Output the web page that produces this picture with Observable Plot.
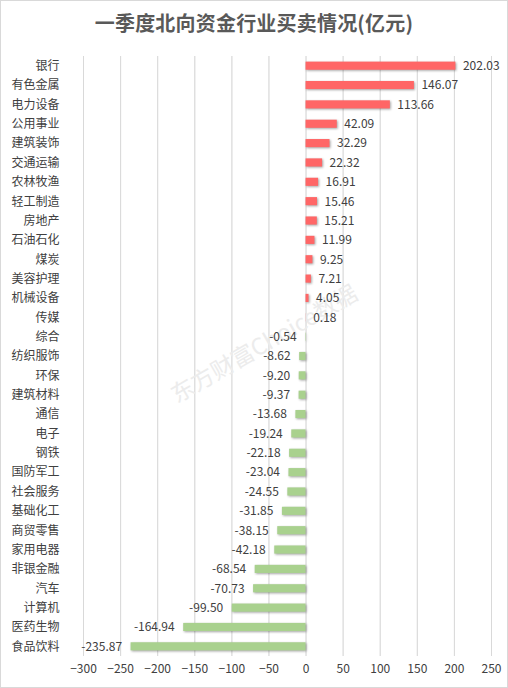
<!DOCTYPE html>
<html>
<head>
<meta charset="utf-8">
<script src="https://cdn.jsdelivr.net/npm/d3@7"></script>
<script src="https://cdn.jsdelivr.net/npm/@observablehq/plot@0.6"></script>
<style>
  html, body { margin: 0; padding: 0; background: #fff; }
  #wrap { position: relative; width: 506px; height: 686px; border: 1px solid #d9d9d9; background: #fff; overflow: hidden; }
  #title { height: 45px; line-height: 44px; text-align: center; font-family: "Noto Sans CJK SC", sans-serif; font-weight: bold; font-size: 20px; color: #595959; letter-spacing: 0.2px; }
  .bars rect { filter: drop-shadow(1.5px 1.5px 1px rgba(0,0,0,0.35)); }
</style>
</head>
<body>
<div id="wrap"><div id="title">一季度北向资金行业买卖情况(亿元)</div><div id="chart"></div></div>
<script>
const categories = ["银行","有色金属","电力设备","公用事业","建筑装饰","交通运输","农林牧渔","轻工制造","房地产","石油石化","煤炭","美容护理","机械设备","传媒","综合","纺织服饰","环保","建筑材料","通信","电子","钢铁","国防军工","社会服务","基础化工","商贸零售","家用电器","非银金融","汽车","计算机","医药生物","食品饮料"];
const values = [202.03,146.07,113.66,42.09,32.29,22.32,16.91,15.46,15.21,11.99,9.25,7.21,4.05,0.18,-0.54,-8.62,-9.20,-9.37,-13.68,-19.24,-22.18,-23.04,-24.55,-31.85,-38.15,-42.18,-68.54,-70.73,-99.50,-164.94,-235.87];
const xTicks = [-300,-250,-200,-150,-100,-50,0,50,100,150,200,250];
const watermark = "东方财富Choice数据";

const data = categories.map((c, i) => ({cat: c, v: values[i]}));
const pos = data.filter(d => d.v >= 0);
const neg = data.filter(d => d.v < 0);
const font = "'Noto Sans CJK SC', sans-serif";

const chart = Plot.plot({
  width: 506,
  height: 641,
  marginLeft: 82,
  marginRight: 16,
  marginTop: 10,
  marginBottom: 31,
  style: {fontFamily: font, fontSize: "12px", color: "#404040", background: "transparent"},
  x: {domain: [-300, 250], ticks: xTicks, grid: true, label: null, tickSize: 0, tickPadding: 8},
  y: {domain: categories, label: null, tickSize: 0, tickPadding: 24, paddingInner: 0.58, paddingOuter: 0.29, round: false},
  marks: [
    Plot.gridX(xTicks, {stroke: "#d9d9d9", strokeOpacity: 1}),
    Plot.text([watermark], {frameAnchor: "middle", text: d => d, rotate: -30, dx: -23, dy: -12, fontSize: 23, fill: "#ececec"}),
    Plot.barX(data, {x: "v", y: "cat", fill: d => d.v >= 0 ? "#ff6666" : "#a9d18e", className: "bars"}),
    Plot.text(pos, {x: "v", y: "cat", text: d => d.v.toFixed(2), textAnchor: "start", dx: 7, fill: "#404040", fontSize: 12}),
    Plot.text(neg, {x: "v", y: "cat", text: d => d.v.toFixed(2), textAnchor: "end", dx: -9, fill: "#404040", fontSize: 12})
  ]
});
document.getElementById("chart").appendChild(chart);
</script>
</body>
</html>
